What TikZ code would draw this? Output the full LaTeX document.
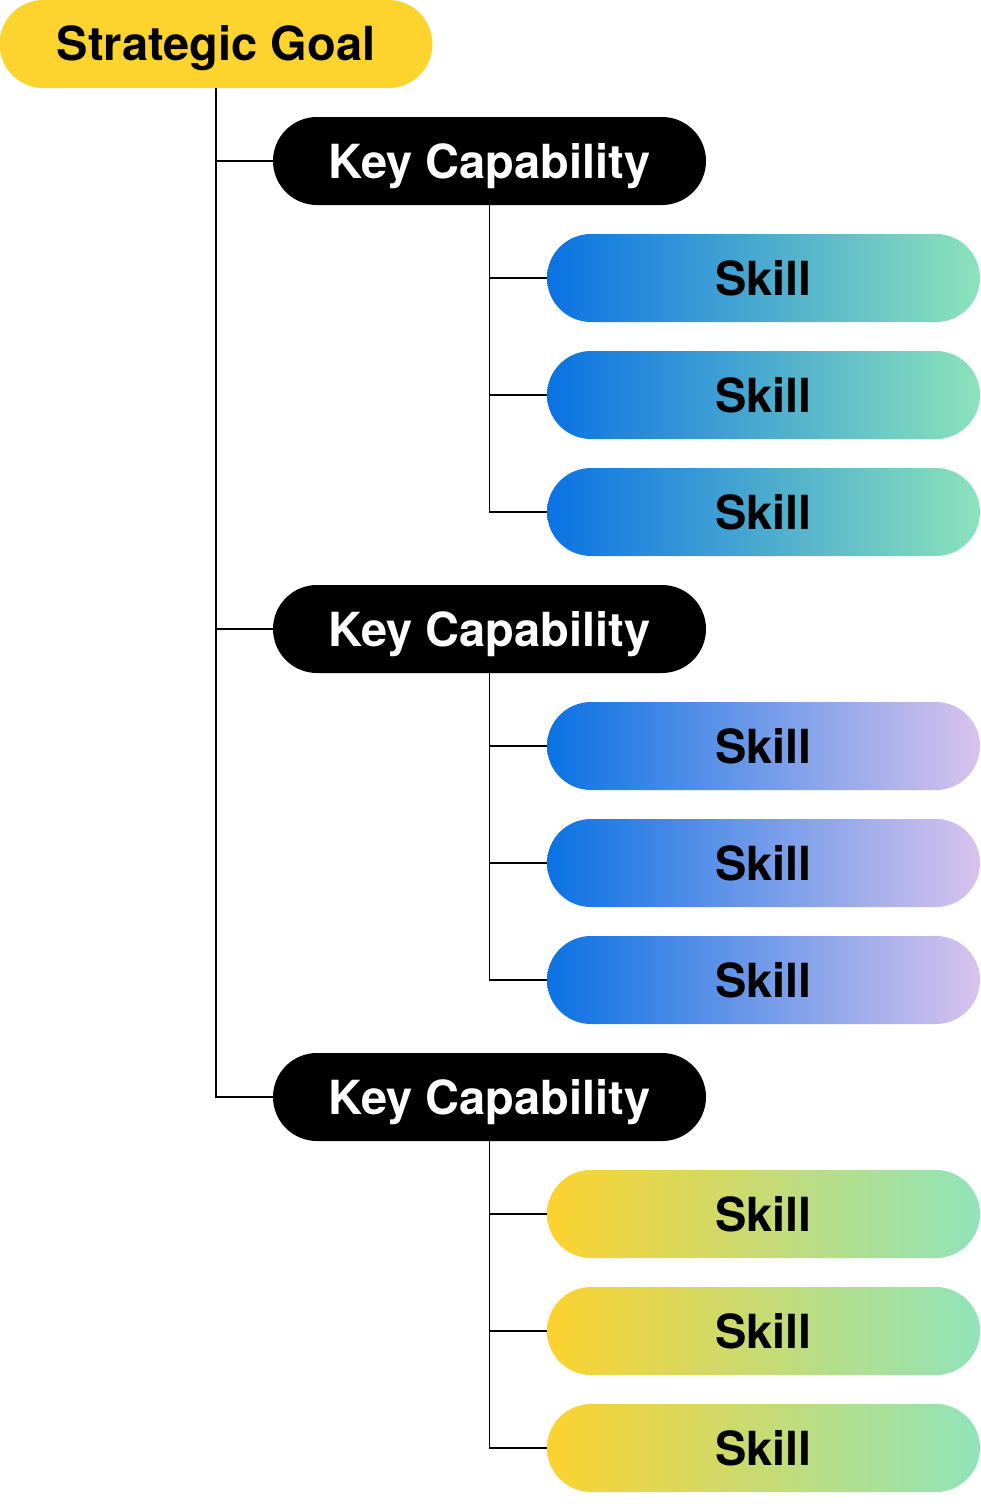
\documentclass[tikz,border=0pt]{standalone}
\usepackage{fontspec}
\setmainfont{TeX Gyre Heros}
\usepackage{xcolor}
\definecolor{goalYellow}{HTML}{FDD42E}
\definecolor{skillBlue}{HTML}{0A72E4}
\definecolor{skillGreen}{HTML}{8CE3BB}
\definecolor{skillLilac}{HTML}{D9C3EE}
\definecolor{skillYellow}{HTML}{FDD22E}
\definecolor{skillMint}{HTML}{90E4BA}
\tikzset{
    pill/.style={rectangle,rounded corners=44pt,minimum width=433pt,
        minimum height=88pt,inner sep=0pt,text height=34pt,text depth=0pt,
        font=\fontsize{47}{47}\selectfont\bfseries},
    goal/.style={pill,fill=goalYellow},
    capability/.style={pill,fill=black,text=white},
    skill/.style 2 args={pill,left color=#1,right color=#2},
    link/.style={line width=1.8pt,black},
}

\begin{document}
\begin{tikzpicture}[x=1pt,y=-1pt]
        \useasboundingbox (0,0) rectangle (980,1504);
        \node[goal] (goal) at (216,44) {Strategic Goal};
        \foreach \c/\y/\from/\to in {1/161/skillBlue/skillGreen,
                2/629/skillBlue/skillLilac,3/1097/skillYellow/skillMint} {
            \node[capability] (cap\c) at (489.5,\y) {Key Capability};
            \draw[link] (goal.south) |- (cap\c.west);
            \foreach \s in {1,2,3} {
                \node[skill={\from}{\to}] (skill\c\s) at (763.5,{\y+117*\s}) {Skill};
                \draw[link] (cap\c.south) |- (skill\c\s.west);
            }
        }
    \end{tikzpicture}
\end{document}
